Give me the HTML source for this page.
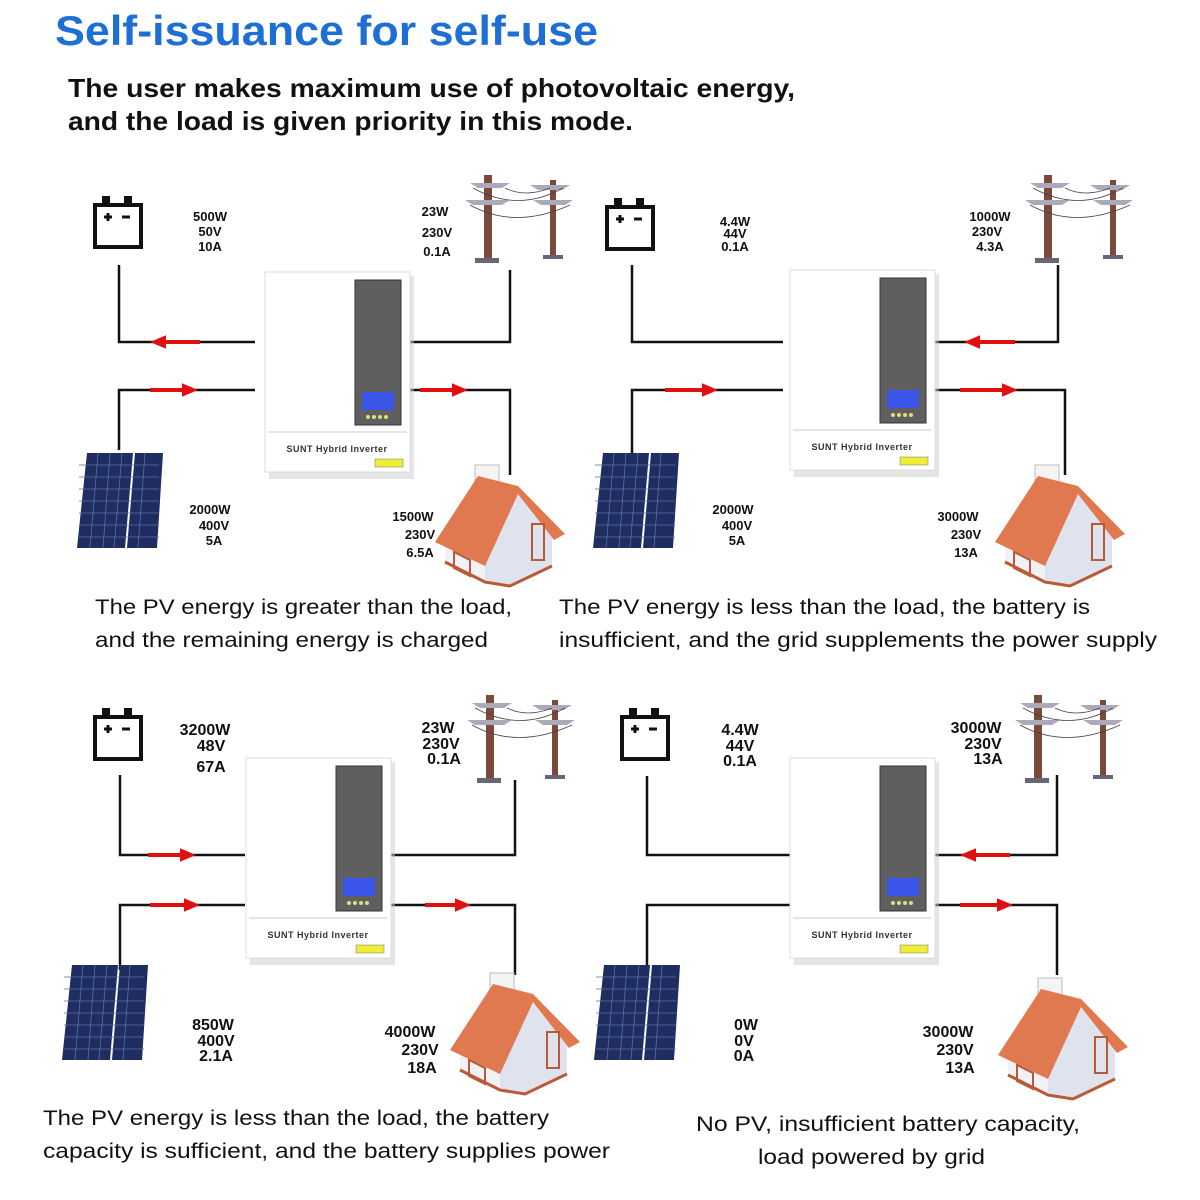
<!DOCTYPE html>
<html><head><meta charset="utf-8"><style>
html,body{margin:0;padding:0;background:#fff}
svg{display:block}
text{font-family:"Liberation Sans",Arial,sans-serif}
.l{font-weight:bold;font-size:13px;text-anchor:middle;fill:#111}
.lb{font-weight:bold;font-size:16px;text-anchor:middle;fill:#111}
.c{font-size:21px;fill:#111}
</style></head><body>
<svg width="1200" height="1200" viewBox="0 0 1200 1200" xmlns="http://www.w3.org/2000/svg">
<defs>
<symbol id="bat" overflow="visible">
<rect x="2" y="12" width="46" height="42" fill="none" stroke="#111" stroke-width="4"/>
<rect x="9" y="3" width="8" height="9" fill="#111"/><rect x="31" y="3" width="8" height="9" fill="#111"/>
<path d="M11 24h8M15 20v8M29 24h8" stroke="#111" stroke-width="3"/>
</symbol>
<symbol id="pole" overflow="visible">
<rect x="14" y="5" width="8" height="85" fill="#7a4a3a"/>
<rect x="80" y="10" width="6" height="78" fill="#7a4a3a"/>
<rect x="5" y="88" width="24" height="5" fill="#667"/>
<rect x="73" y="85" width="20" height="4" fill="#667"/>
<path d="M0 13h40l-8 5h-24zM-5 30h45l-8 5h-29zM60 15h40l-8 5h-24zM63 30h40l-8 5h-24z" fill="#aab"/>
<path d="M3 18q45 25 90 0M0 35q45 25 100 0M35 18q20 10 45 0" stroke="#444" fill="none" stroke-width="0.8"/>
</symbol>
<symbol id="pv" overflow="visible">
<polygon points="10,0 56,0 48,95 0,95" fill="#1f2d60"/>
<polygon points="58,0 86,0 80,95 50,95" fill="#1f2d60"/>
<g stroke="#5a6fa8" stroke-width="0.8">
<path d="M2 12h80M2 24h80M2 36h80M2 48h80M2 60h80M2 72h80M2 84h80"/>
<path d="M21 0l-8 95M33 0l-7 95M45 0l-8 95M68 0l-7 95"/>
</g>
</symbol>
<symbol id="house" overflow="visible">
<polygon points="15,82 55,102 55,120 15,100" fill="#f2f2f6"/>
<polygon points="55,102 88,32 122,72 122,104 80,124 55,118" fill="#dfe3ee"/>
<rect x="45" y="3" width="24" height="36" fill="#f4f4f4" stroke="#bbb"/>
<polygon points="5,80 48,14 88,24 135,72 124,78 88,32 55,104" fill="#e07850"/>
<polygon points="24,90 40,98 40,114 24,106" fill="none" stroke="#b85a38" stroke-width="2"/>
<rect x="102" y="62" width="12" height="36" fill="none" stroke="#b85a38" stroke-width="2"/>
<path d="M15 100l40 20 25 4 42-20" stroke="#b85a38" stroke-width="3" fill="none"/>
</symbol>
<symbol id="inv" overflow="visible">
<rect x="4" y="4" width="145" height="203" fill="#ccc" opacity="0.5"/>
<rect x="0" y="0" width="145" height="200" fill="#fff" stroke="#ddd"/>
<rect x="90" y="8" width="46" height="145" fill="#5f5f5f" stroke="#333"/>
<rect x="97" y="120" width="32" height="18" fill="#3a55e8"/>
<circle cx="103" cy="145" r="2" fill="#dd8"/><circle cx="109" cy="145" r="2" fill="#dd8"/><circle cx="115" cy="145" r="2" fill="#dd8"/><circle cx="121" cy="145" r="2" fill="#dd8"/>
<path d="M3 160h139" stroke="#ccc"/>
<text x="72" y="180" text-anchor="middle" font-size="9" font-weight="bold" fill="#333" letter-spacing="0.5">SUNT Hybrid Inverter</text>
<rect x="110" y="187" width="28" height="8" fill="#ee3" stroke="#777" stroke-width="0.5"/>
</symbol>
<marker id="ah" markerWidth="4" markerHeight="4" refX="2" refY="2" orient="auto" markerUnits="strokeWidth"><path d="M0 0.3L4 2L0 3.7z" fill="#e01010"/></marker>
</defs>

<text x="55" y="45" font-size="42" font-weight="bold" fill="#1d6fd6" textLength="543" lengthAdjust="spacingAndGlyphs">Self-issuance for self-use</text>
<text x="68" y="97" font-size="26" font-weight="bold" fill="#111" textLength="727" lengthAdjust="spacingAndGlyphs">The user makes maximum use of photovoltaic energy,</text>
<text x="68" y="130" font-size="26" font-weight="bold" fill="#111" textLength="565" lengthAdjust="spacingAndGlyphs">and the load is given priority in this mode.</text>

<g stroke="#111" stroke-width="2.5" fill="none">
<path d="M119 265V342H255M119 450V390H255M510 270V342H410M410 390H510V475"/>
<path d="M632 265V342H783M632 455V390H783M1058 265V342H935M935 390H1065V475"/>
<path d="M120 775V855H245M120 970V905H245M515 780V855H385M385 905H515V975"/>
<path d="M647 776V855H790M647 965V905H790M1057 775V855H935M935 905H1057V975"/>
</g>
<g stroke="#e01010" stroke-width="4" marker-end="url(#ah)">
<path d="M200 342H158"/><path d="M150 390H190"/><path d="M420 390H460"/>
<path d="M1015 342H972"/><path d="M665 390H710"/><path d="M960 390H1010"/>
<path d="M148 855H188"/><path d="M150 905H192"/><path d="M425 905H463"/>
<path d="M1010 855H968"/><path d="M960 905H1005"/>
</g>

<use href="#bat" x="93" y="193"/><use href="#bat" x="605" y="195"/><use href="#bat" x="93" y="705"/><use href="#bat" x="620" y="705"/>
<use href="#pole" x="470" y="170"/><use href="#pole" x="1030" y="170"/><use href="#pole" x="472" y="690"/><use href="#pole" x="1020" y="690"/>
<use href="#pv" x="77" y="453"/><use href="#pv" x="593" y="453"/><use href="#pv" x="62" y="965"/><use href="#pv" x="594" y="965"/>
<use href="#inv" x="265" y="272"/><use href="#inv" x="790" y="270"/><use href="#inv" x="246" y="758"/><use href="#inv" x="790" y="758"/>
<use href="#house" x="430" y="462"/><use href="#house" x="990" y="462"/><use href="#house" x="445" y="970"/><use href="#house" x="993" y="975"/>

<g class="l">
<text x="210" y="221">500W</text><text x="210" y="236">50V</text><text x="210" y="251">10A</text>
<text x="435" y="216">23W</text><text x="437" y="237">230V</text><text x="437" y="256">0.1A</text>
<text x="210" y="514">2000W</text><text x="214" y="530">400V</text><text x="214" y="545">5A</text>
<text x="413" y="521">1500W</text><text x="420" y="539">230V</text><text x="420" y="557">6.5A</text>
<text x="735" y="226">4.4W</text><text x="735" y="238">44V</text><text x="735" y="251">0.1A</text>
<text x="990" y="221">1000W</text><text x="987" y="236">230V</text><text x="990" y="251">4.3A</text>
<text x="733" y="514">2000W</text><text x="737" y="530">400V</text><text x="737" y="545">5A</text>
<text x="958" y="521">3000W</text><text x="966" y="539">230V</text><text x="966" y="557">13A</text>
</g>
<g class="lb">
<text x="205" y="735">3200W</text><text x="211" y="751">48V</text><text x="211" y="772">67A</text>
<text x="438" y="733">23W</text><text x="441" y="749">230V</text><text x="444" y="764">0.1A</text>
<text x="213" y="1030">850W</text><text x="216" y="1046">400V</text><text x="216" y="1061">2.1A</text>
<text x="410" y="1037">4000W</text><text x="420" y="1055">230V</text><text x="422" y="1073">18A</text>
<text x="740" y="735">4.4W</text><text x="740" y="751">44V</text><text x="740" y="766">0.1A</text>
<text x="976" y="733">3000W</text><text x="983" y="749">230V</text><text x="988" y="764">13A</text>
<text x="746" y="1030">0W</text><text x="744" y="1046">0V</text><text x="744" y="1061">0A</text>
<text x="948" y="1037">3000W</text><text x="955" y="1055">230V</text><text x="960" y="1073">13A</text>
</g>

<g class="c">
<text x="95" y="614" textLength="417" lengthAdjust="spacingAndGlyphs">The PV energy is greater than the load,</text>
<text x="95" y="647" textLength="393" lengthAdjust="spacingAndGlyphs">and the remaining energy is charged</text>
<text x="559" y="614" textLength="531" lengthAdjust="spacingAndGlyphs">The PV energy is less than the load, the battery is</text>
<text x="559" y="647" textLength="598" lengthAdjust="spacingAndGlyphs">insufficient, and the grid supplements the power supply</text>
<text x="43" y="1125" textLength="506" lengthAdjust="spacingAndGlyphs">The PV energy is less than the load, the battery</text>
<text x="43" y="1158" textLength="567" lengthAdjust="spacingAndGlyphs">capacity is sufficient, and the battery supplies power</text>
<text x="696" y="1131" textLength="384" lengthAdjust="spacingAndGlyphs">No PV, insufficient battery capacity,</text>
<text x="758" y="1164" textLength="227" lengthAdjust="spacingAndGlyphs">load powered by grid</text>
</g>
</svg>
</body></html>
